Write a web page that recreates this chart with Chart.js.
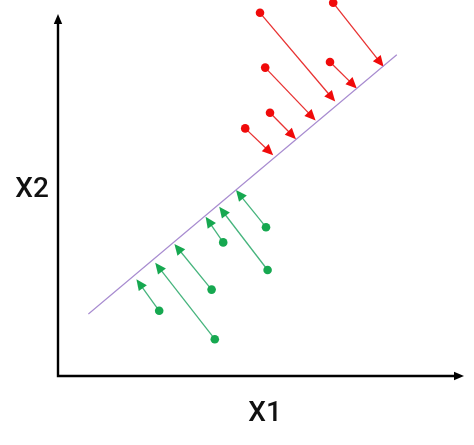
<!DOCTYPE html>
<html><head><meta charset="utf-8">
<script src="https://cdn.jsdelivr.net/npm/chart.js@4"></script>
<style>html,body{margin:0;padding:0;background:#fff;} canvas{display:block;}</style>
</head><body>
<canvas id="c" width="474" height="445"></canvas>
<script>
// Data (units: origin at axes intersection)
const redX    = [6.88, 5.05, 6.80, 5.18, 5.30, 4.68];
const redY    = [9.33, 9.08, 7.85, 7.71, 6.58, 6.19];
const redTipX = [8.14, 6.93, 7.47, 6.44, 5.95, 5.38];
const redTipY = [7.73, 6.86, 7.19, 6.39, 5.92, 5.52];

const greenX    = [5.20, 4.13, 5.24, 3.84, 2.53, 3.92];
const greenY    = [3.72, 3.34, 2.65, 2.16, 1.63, 0.92];
const greenTipX = [4.45, 3.69, 4.03, 2.91, 1.96, 2.43];
const greenTipY = [4.65, 3.98, 4.23, 3.30, 2.42, 2.83];

const lineX = [0.76, 8.47];
const lineY = [1.55, 8.03];

const axisEndX = 10.15;
const axisEndY = 9.05;
const axisTitles = ['X1', 'X2'];

const RED = 'rgb(240,10,10)';
const RED_LINE = 'rgb(232,50,50)';
const GREEN = 'rgb(22,168,80)';
const GREEN_LINE = 'rgb(70,180,125)';
const PURPLE = 'rgb(168,140,208)';

function toPts(xs, ys){ return xs.map((x,i)=>({x:x, y:ys[i]})); }

function drawArrow(ctx, x0, y0, x1, y1, lineColor, headColor, lw, hl, hw){
  const dx = x1-x0, dy = y1-y0, len = Math.hypot(dx,dy);
  const ux = dx/len, uy = dy/len;
  const bx = x1 - ux*hl, by = y1 - uy*hl;
  ctx.save();
  ctx.strokeStyle = lineColor; ctx.lineWidth = lw;
  ctx.beginPath(); ctx.moveTo(x0,y0); ctx.lineTo(bx+ux*1, by+uy*1); ctx.stroke();
  ctx.fillStyle = headColor;
  ctx.beginPath();
  ctx.moveTo(x1,y1);
  ctx.lineTo(bx - uy*hw, by + ux*hw);
  ctx.lineTo(bx + uy*hw, by - ux*hw);
  ctx.closePath(); ctx.fill();
  ctx.restore();
}

const arrowPlugin = {
  id: 'arrows',
  beforeDatasetsDraw(chart){
    const ctx = chart.ctx, xs = chart.scales.x, ys = chart.scales.y;
    const ox = xs.getPixelForValue(0), oy = ys.getPixelForValue(0);
    const ex = xs.getPixelForValue(axisEndX), ey = ys.getPixelForValue(axisEndY);
    // axes
    ctx.save();
    ctx.strokeStyle = '#000'; ctx.lineWidth = 2.4; ctx.lineJoin = 'miter';
    ctx.beginPath();
    ctx.moveTo(ox, ey + 8); ctx.lineTo(ox, oy); ctx.lineTo(ex - 8, oy);
    ctx.stroke();
    ctx.fillStyle = '#000';
    ctx.beginPath(); ctx.moveTo(ox, ey); ctx.lineTo(ox-4.2, ey+10); ctx.lineTo(ox+4.2, ey+10); ctx.closePath(); ctx.fill();
    ctx.beginPath(); ctx.moveTo(ex, oy); ctx.lineTo(ex-10, oy-4.2); ctx.lineTo(ex-10, oy+4.2); ctx.closePath(); ctx.fill();
    ctx.restore();
    // projection arrows
    redX.forEach((x,i)=>{
      drawArrow(ctx, xs.getPixelForValue(x), ys.getPixelForValue(redY[i]),
        xs.getPixelForValue(redTipX[i]), ys.getPixelForValue(redTipY[i]), RED_LINE, RED, 1.3, 11, 5);
    });
    greenX.forEach((x,i)=>{
      drawArrow(ctx, xs.getPixelForValue(x), ys.getPixelForValue(greenY[i]),
        xs.getPixelForValue(greenTipX[i]), ys.getPixelForValue(greenTipY[i]), GREEN_LINE, GREEN, 1.3, 11, 5);
    });
  },
  afterDraw(chart){
    const ctx = chart.ctx, xs = chart.scales.x, ys = chart.scales.y;
    const ox = xs.getPixelForValue(0), oy = ys.getPixelForValue(0);
    const ex = xs.getPixelForValue(axisEndX), ey = ys.getPixelForValue(axisEndY);
    ctx.save();
    ctx.fillStyle = '#111';
    ctx.font = '500 28px Roboto';
    ctx.textAlign = 'center'; ctx.textBaseline = 'middle';
    ctx.fillText(axisTitles[0], (ox+ex)/2 + 4, oy + 38);
    ctx.fillText(axisTitles[1], ox - 26, (oy+ey)/2 - 5);
    ctx.restore();
  }
};

new Chart(document.getElementById('c'), {
  type: 'scatter',
  data: {
    datasets: [
      { type:'line', data: toPts(lineX, lineY), borderColor: PURPLE, borderWidth: 1.2, pointRadius: 0, fill:false, order: 3 },
      { data: toPts(redX, redY), backgroundColor: RED, borderColor: RED, pointRadius: 4.3, pointBorderWidth: 0, order: 1 },
      { data: toPts(greenX, greenY), backgroundColor: GREEN, borderColor: GREEN, pointRadius: 4.3, pointBorderWidth: 0, order: 1 }
    ]
  },
  options: {
    responsive: false,
    animation: false,
    devicePixelRatio: 1,
    layout: { padding: 0, autoPadding: false },
    plugins: { legend: { display: false }, tooltip: { enabled: false } },
    scales: {
      x: { type:'linear', min: -1.45, max: 10.4, display: false },
      y: { type:'linear', min: -1.725, max: 9.4, display: false }
    }
  },
  plugins: [arrowPlugin]
});
</script>
</body></html>
